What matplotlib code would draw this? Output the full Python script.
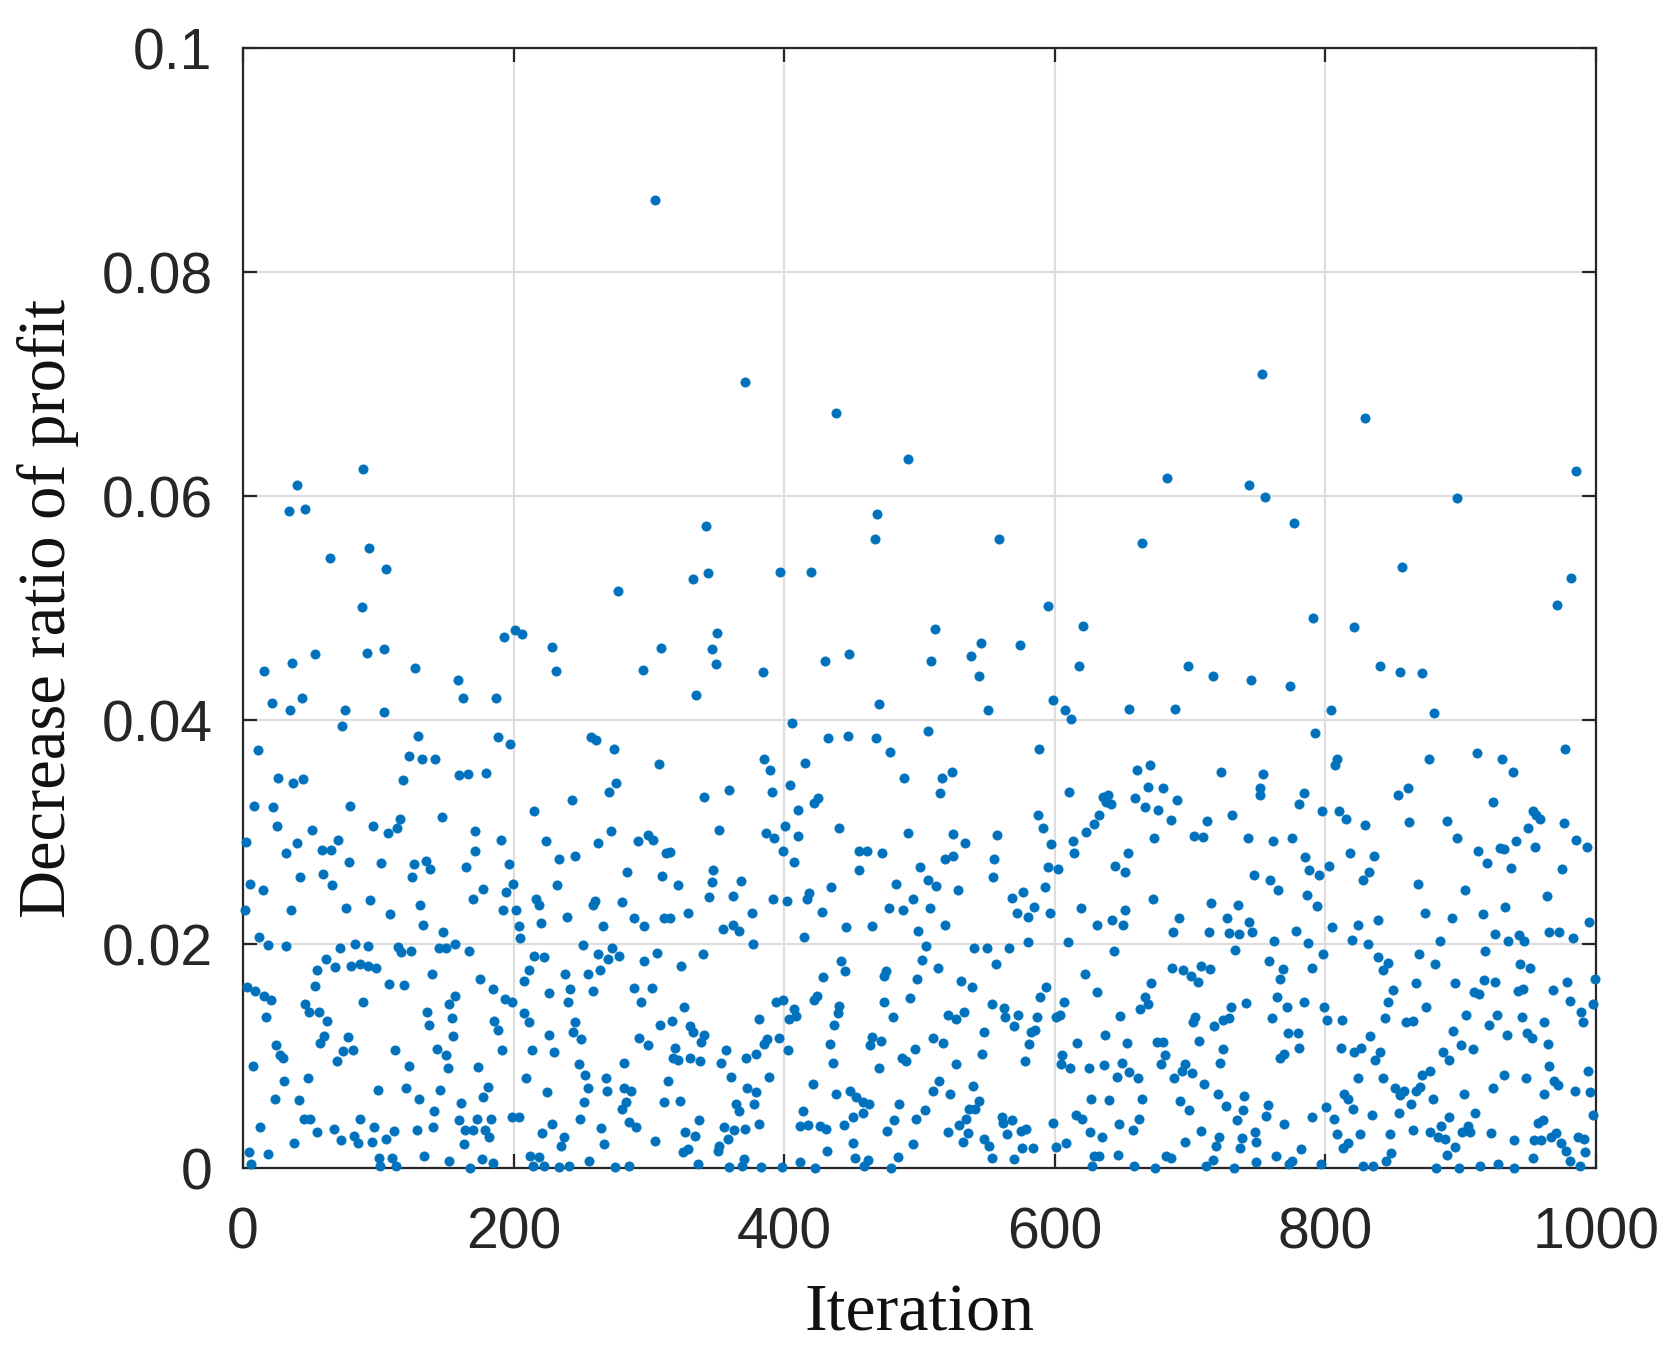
import numpy as np
import matplotlib
matplotlib.use("Agg")
import matplotlib.pyplot as plt

# ---------------- data (iteration, decrease ratio) ----------------
# sparse upper points (ratio as fraction)
iter_up_left = [304.5, 371, 438.6, 491.6, 89, 40, 33.8, 45.7, 64, 93.2,
                105.8, 87.8, 15.4, 36.3, 53, 91.3, 103.9, 127.3, 158.8, 162.4,
                187.1, 21.5, 34.7, 43.7, 75.6, 104.5, 192.6, 201, 206, 228.6,
                231.2, 277.5, 295.5, 309.3, 332.8, 342.1, 344, 350.2, 346.3, 349.8,
                334.7, 384.2, 397.1, 419.9, 430.5, 448.2, 468.8, 467.2, 470]
ratio_up_left = [0.0864, 0.0702, 0.0674, 0.0633, 0.0624, 0.0610, 0.0587, 0.0588, 0.0545, 0.0554,
                 0.0535, 0.0501, 0.0444, 0.0451, 0.0459, 0.0460, 0.0463, 0.0446, 0.0436, 0.0420,
                 0.0420, 0.0415, 0.0409, 0.0420, 0.0409, 0.0407, 0.0474, 0.0480, 0.0477, 0.0465,
                 0.0444, 0.0515, 0.0445, 0.0464, 0.0526, 0.0573, 0.0531, 0.0478, 0.0463, 0.0450,
                 0.0422, 0.0443, 0.0532, 0.0532, 0.0453, 0.0459, 0.0584, 0.0562, 0.0414]

iter_up_right = [753.2, 829.5, 683.1, 743.2, 755.2, 897.4, 985.4, 776.6, 559.1, 664.6,
                 856.5, 981.5, 971.4, 594.8, 790.9, 621.1, 511.7, 821.4, 545.8, 574,
                 537.7, 508.4, 543.8, 618.2, 698.4, 717.2, 744.8, 773.7, 840.3, 855.5,
                 871.1, 550.3, 599, 607.8, 611.7, 655.2, 689, 804.2, 879.9]
ratio_up_right = [0.0709, 0.0670, 0.0616, 0.0610, 0.0599, 0.0598, 0.0622, 0.0576, 0.0562, 0.0558,
                  0.0537, 0.0527, 0.0503, 0.0502, 0.0491, 0.0484, 0.0481, 0.0483, 0.0469, 0.0467,
                  0.0457, 0.0453, 0.0439, 0.0448, 0.0448, 0.0439, 0.0436, 0.0430, 0.0448, 0.0443,
                  0.0442, 0.0409, 0.0418, 0.0409, 0.0401, 0.0410, 0.0410, 0.0409, 0.0406]

# dense lower band, ratio given in per-mille (x 0.001)
it1 = [73.1, 10.8, 26.1, 37.2, 44.6, 118, 8.3, 22.4, 79, 24.8,
       51, 96, 116.2, 113.5, 107.4, 2.2, 39.9, 31.7, 58.3, 65.2,
       70.4, 78.5, 101.9, 42.1, 58.8, 65.7, 5.1, 15, 94.1, 1.5,
       35.2, 76.1, 108.8, 12, 18.7, 31.5, 71.6, 83, 92.3, 114.8,
       116.7, 61.3, 54.4, 68, 79.8, 86.4, 92.1, 98.3, 53, 2.7,
       9.1, 15.7, 20.7, 108.1, 118.7, 88.9, 46, 49, 55.9, 62,
       17, 60.1, 57.1, 77.3, 24.4, 27.6, 29.8, 73.6, 81, 69.2,
       112.3, 7.1, 30.5, 48.2, 99.5, 120.4, 23.6, 41.1, 12.8, 45.3,
       49.5, 54.7, 67, 72.4, 86.4, 82.2, 84.7, 97, 95.3, 105.6,
       111.3, 37.9, 4.2, 18.7, 5.9, 100.2, 101.5, 109.8, 113]
pm1 = [39.5, 37.3, 34.8, 34.4, 34.7, 34.6, 32.3, 32.2, 32.35, 30.5,
       30.2, 30.5, 31.2, 30.4, 29.9, 29.1, 29.05, 28.1, 28.4, 28.4,
       29.25, 27.3, 27.2, 26.0, 26.25, 25.3, 25.4, 24.8, 23.9, 23.0,
       23.0, 23.2, 22.7, 20.6, 19.9, 19.8, 19.6, 20.0, 19.8, 19.7,
       19.3, 18.7, 17.7, 17.95, 18.0, 18.2, 18.0, 17.9, 16.25, 16.2,
       15.8, 15.4, 15.0, 16.4, 16.3, 14.8, 14.6, 13.9, 13.9, 13.1,
       13.45, 11.75, 11.2, 11.7, 11.0, 10.1, 9.8, 10.45, 10.5, 9.55,
       10.5, 9.1, 7.8, 8.0, 7.0, 7.1, 6.2, 6.1, 3.7, 4.35,
       4.35, 3.2, 3.5, 2.5, 4.35, 2.9, 2.2, 3.7, 2.3, 2.6,
       3.3, 2.2, 1.4, 1.25, 0.4, 0.9, 0.2, 0.9, 0.2]

it2 = [129.1, 123, 132.1, 142.2, 188.2, 197.3, 159.4, 166.1, 179.6, 243.2,
       214.8, 147.1, 171.7, 190.7, 224, 171.2, 233.8, 245.4, 126.7, 135.3,
       138.2, 124.9, 164.8, 196.4, 232.1, 177.1, 169.8, 194.4, 199.8, 216.6,
       218.5, 130.8, 192.4, 201.8, 239.2, 220.3, 204.2, 133.3, 148.1, 205,
       124.2, 145.1, 150.1, 156.7, 167.3, 215.3, 222.2, 211.6, 207.9, 139.7,
       175.4, 185, 193.9, 198.8, 156.7, 152, 238, 241.9, 226.4, 240,
       135.8, 137.2, 154.5, 207.4, 211.1, 185.8, 188.2, 245.4, 243.7, 155,
       226.4, 143.4, 150.1, 151.3, 191.2, 213.6, 230.1, 122.5, 174, 209.2,
       224.7, 145.9, 129.9, 180.8, 177.6, 161.1, 141.4, 159.9, 173, 183.3,
       198.8, 203.8, 164.3, 169.8, 178.9, 182.1, 140.2, 128.4, 163.1, 134,
       152.5, 168, 176.7, 184.5, 228.4, 221, 237.5, 235, 212.1, 219,
       214.1, 222.7, 233.3, 241.2]
pm2 = [38.6, 36.8, 36.5, 36.5, 38.5, 37.9, 35.1, 35.2, 35.3, 32.9,
       31.9, 31.3, 30.1, 29.3, 29.2, 28.3, 27.6, 27.9, 27.1, 27.4,
       26.7, 26.0, 26.9, 27.1, 25.3, 24.9, 24.0, 24.6, 25.4, 24.0,
       23.45, 23.5, 23.0, 23.0, 22.4, 21.9, 21.6, 21.7, 21.1, 20.5,
       19.4, 19.6, 19.6, 20.0, 19.4, 18.9, 18.8, 17.65, 16.7, 17.3,
       16.9, 15.95, 15.1, 14.8, 15.4, 14.6, 17.3, 16.0, 15.6, 14.8,
       13.9, 12.8, 13.4, 13.8, 13.0, 13.1, 12.35, 13.0, 12.1, 11.8,
       11.85, 10.6, 10.1, 8.9, 10.5, 10.5, 10.4, 9.1, 9.0, 8.0,
       6.8, 7.0, 6.2, 7.2, 6.3, 5.8, 5.1, 4.25, 4.4, 4.4,
       4.55, 4.55, 3.4, 3.4, 3.4, 2.8, 3.7, 3.4, 2.1, 1.1,
       0.6, 0.0, 0.8, 0.45, 3.9, 3.1, 2.8, 2.0, 1.1, 1.0,
       0.2, 0.2, 0.1, 0.2]

it3 = [257.2, 260.9, 273.9, 307.2, 275.7, 270.7, 340.4, 359.4, 351.5, 272,
       262.6, 292.2, 299.5, 303.2, 312.6, 315.8, 283.5, 309.6, 321.7, 347.1,
       346.6, 344.6, 362.4, 368, 258.4, 260.4, 279.8, 289.2, 296.6, 310.9,
       315.8, 328.6, 266.3, 354.5, 361.9, 366.8, 251, 262.1, 272.7, 278.1,
       270, 306, 296.6, 339.7, 323.7, 255.2, 263.8, 258.9, 289.2, 302.3,
       294.1, 325.7, 308.2, 317, 330.6, 332.3, 249.8, 292.4, 299.1, 319.5,
       317.5, 321.2, 330.6, 337.7, 340.4, 338.5, 357, 353.2, 371.7, 248.6,
       281.8, 253, 268.3, 254.7, 268.8, 281.3, 286.7, 313.8, 360.6, 372.2,
       252.3, 283, 279.8, 311.4, 322.9, 364.3, 366.3, 249.1, 285, 290.4,
       264.6, 267, 304.7, 326.6, 334, 337.2, 325.4, 328.6, 355.7, 358.2,
       352, 350.8, 363.1, 371.2, 256, 275.2, 285, 336.5, 358.9, 368.5,
       370.5]
pm3 = [38.5, 38.2, 37.4, 36.1, 34.4, 33.6, 33.1, 33.75, 30.2, 30.1,
       29.0, 29.2, 29.7, 29.3, 28.1, 28.2, 26.4, 26.1, 25.3, 26.6,
       25.5, 24.2, 24.3, 25.6, 23.45, 23.8, 23.75, 22.3, 21.6, 22.35,
       22.35, 22.8, 21.6, 21.3, 21.7, 21.2, 19.9, 19.1, 19.6, 18.9,
       18.7, 19.2, 18.5, 19.1, 18.0, 17.35, 17.65, 15.8, 16.1, 16.1,
       14.8, 14.4, 12.8, 13.1, 12.7, 12.1, 11.5, 11.6, 10.95, 10.7,
       9.8, 9.6, 9.85, 9.55, 11.85, 11.25, 10.5, 9.4, 9.8, 9.3,
       9.4, 8.3, 8.0, 7.1, 6.85, 7.1, 6.9, 7.8, 8.1, 7.1,
       5.9, 5.9, 5.3, 5.9, 5.95, 5.7, 5.1, 4.4, 4.1, 3.7,
       3.6, 2.1, 2.4, 3.2, 2.9, 4.25, 1.4, 1.7, 3.7, 2.6,
       2.0, 1.5, 3.4, 3.45, 0.6, 0.1, 0.2, 0.4, 0.1, 0.2,
       0.8]

it4 = [405.8, 432.6, 446.9, 467.9, 478.5, 385.3, 389.5, 415.4, 488.8, 404.6,
       391, 421.8, 424.8, 410, 400.9, 440.8, 386.6, 392.7, 410.5, 491.8,
       398.9, 407.5, 455.5, 461, 472.3, 455, 482.6, 434.6, 418.6, 416.6,
       391.5, 401.9, 376, 428, 477.7, 487.6, 495.4, 445.7, 464.7, 498.6,
       414.9, 376.7, 442, 445, 429, 475.3, 474, 498.2, 424.3, 422.3,
       394, 398.9, 407.5, 403.3, 408.7, 440.8, 439.5, 436.6, 381.7, 473.5,
       480.2, 493, 385.3, 387.1, 396, 402.6, 379.2, 434.1, 435.8, 464.9,
       463.7, 471.6, 496.9, 487, 490, 470.3, 389, 379.2, 378, 421.6,
       438.3, 448.9, 453.1, 458, 463, 458, 451.1, 485.1, 413.7, 412,
       417.4, 426.5, 430.9, 444, 381.7, 481.4, 476, 497.4, 495, 450.6,
       431.7, 452.6, 461.7, 458.7, 483.9, 478.9, 411.7, 423, 398.4, 382.9]
pm4 = [39.7, 38.4, 38.6, 38.4, 37.1, 36.5, 35.5, 36.2, 34.85, 34.2,
       33.6, 32.6, 33.0, 32.0, 30.5, 30.4, 29.9, 29.5, 29.6, 29.9,
       28.3, 27.3, 28.3, 28.3, 28.1, 26.6, 25.4, 25.1, 24.55, 24.0,
       24.0, 23.8, 22.8, 22.85, 23.2, 23.0, 24.05, 21.5, 21.6, 21.2,
       20.6, 20.0, 18.5, 17.6, 17.05, 17.6, 17.1, 16.9, 15.4, 15.0,
       14.8, 15.0, 14.2, 13.3, 13.6, 14.5, 13.8, 12.8, 13.3, 14.8,
       13.5, 15.2, 11.1, 11.55, 11.6, 10.5, 10.15, 11.1, 9.4, 11.7,
       11.0, 11.3, 10.6, 9.8, 9.55, 8.9, 8.1, 6.8, 5.7, 7.5,
       6.6, 6.9, 6.3, 5.9, 5.75, 4.9, 4.55, 5.7, 5.05, 3.75,
       3.8, 3.75, 3.5, 3.8, 3.9, 4.3, 3.3, 4.4, 2.1, 2.2,
       1.5, 0.9, 0.7, 0.15, 1.0, 0, 0.5, 0, 0.1, 0.1]

it5 = [506.5, 588.5, 516.4, 523.8, 515.4, 610.2, 587.3, 591, 557.3, 525,
       533.6, 597.2, 613.7, 614.4, 623, 519.1, 524.5, 555.3, 554.5, 500.6,
       594.7, 602.6, 506, 512.2, 528.7, 592.7, 568.3, 576.2, 508, 571.8,
       580.4, 584.3, 596.7, 619.3, 519.1, 504.8, 540.5, 549.6, 565.9, 579.9,
       610, 501.8, 513.4, 556.5, 530.7, 538.5, 622.3, 593.5, 589.3, 606.5,
       553.6, 562.7, 563.4, 572.5, 569.6, 520.8, 527, 533.1, 586.8, 600.9,
       603.8, 547.9, 582.4, 585.3, 581.1, 510.2, 517.6, 616.4, 546.2, 527,
       578, 605, 604.5, 611.2, 514.1, 510.2, 522.8, 539.8, 543.7, 536.8,
       541.2, 504.3, 534.3, 529.4, 536.1, 521.3, 531.9, 560.7, 562, 568.3,
       564.6, 547.9, 551.6, 553.6, 570.1, 575, 578.7, 575.7, 583.6, 598.4,
       600.9, 608.2, 615.6, 619.8]
pm5 = [39.0, 37.4, 34.8, 35.4, 33.5, 33.6, 31.5, 30.4, 29.7, 29.85,
       29.0, 28.9, 29.2, 28.1, 30.0, 27.6, 27.9, 27.6, 26.0, 26.9,
       26.9, 26.7, 25.7, 25.2, 24.85, 25.1, 24.1, 24.6, 23.2, 22.8,
       22.4, 23.3, 22.8, 23.2, 21.7, 19.8, 19.6, 19.6, 19.6, 20.2,
       20.2, 18.6, 17.85, 18.2, 16.7, 16.2, 17.35, 16.2, 15.3, 14.8,
       14.6, 14.3, 13.5, 13.7, 12.7, 13.7, 13.3, 13.9, 13.5, 13.5,
       13.7, 12.1, 12.1, 12.35, 11.1, 11.6, 11.2, 11.2, 10.2, 9.25,
       9.55, 10.1, 9.3, 8.95, 7.8, 6.9, 6.6, 7.3, 6.0, 5.3,
       5.3, 5.2, 4.4, 3.8, 3.15, 3.2, 2.3, 4.55, 4.05, 4.25,
       3.0, 2.6, 2.0, 0.9, 0.8, 3.3, 3.5, 1.8, 1.8, 4.0,
       1.9, 2.2, 4.7, 4.35]

it6 = [660.8, 670.6, 722.9, 635.4, 639.1, 637.9, 641.6, 659.6, 669.2, 680.2,
       690.1, 666.9, 676.1, 685.9, 731, 712.3, 633, 629.3, 673.1, 702.7,
       709.8, 742.6, 654.4, 644.5, 651.9, 747.5, 672.4, 715.5, 735.2, 652.2,
       631.2, 642.3, 650.2, 691.6, 687.6, 713.7, 727.3, 729, 736.4, 743.8,
       745.8, 643.5, 733.2, 686.6, 695, 700.7, 705.6, 708.1, 714.7, 671.1,
       631, 666.9, 668.7, 663.3, 741.3, 730.2, 648.2, 703.9, 702.4, 717.9,
       724.6, 729, 637.4, 653.4, 675.6, 680.2, 706.4, 724.1, 681.5, 678.5,
       696.5, 694, 688.4, 701.4, 722.4, 710.5, 625.1, 636.6, 649.5, 655.1,
       661.3, 645.8, 626.8, 640.3, 664.5, 692.8, 699, 720.4, 726.5, 740.1,
       738.9, 734.7, 662, 657.6, 647.7, 626.1, 634.9, 708.1, 696.5, 721.1,
       719.2, 738.4, 736.9, 748.2, 748.7, 629.3, 633, 646.5, 627.5, 658.8,
       674.3, 682.2, 685.9, 711.8, 716.7, 732.2, 748.7]
pm6 = [35.5, 36.0, 35.4, 33.1, 33.3, 32.7, 32.5, 33.0, 34.0, 33.95,
       32.9, 32.2, 32.0, 31.1, 31.5, 31.0, 31.5, 30.7, 29.5, 29.6,
       29.55, 29.5, 28.15, 27.0, 26.4, 26.2, 24.0, 23.7, 23.5, 23.0,
       21.7, 22.1, 21.7, 22.3, 21.1, 21.1, 22.3, 21.0, 20.9, 22.0,
       21.1, 19.4, 19.5, 17.9, 17.7, 17.1, 16.6, 18.0, 17.8, 16.5,
       15.7, 15.3, 14.6, 14.2, 14.7, 14.4, 13.6, 13.5, 13.0, 12.7,
       13.2, 13.4, 11.9, 11.2, 11.25, 11.25, 11.3, 10.65, 10.1, 9.3,
       9.3, 8.7, 8.0, 8.5, 9.4, 7.5, 8.9, 9.2, 9.4, 8.6,
       8.0, 8.1, 6.2, 6.1, 6.2, 6.0, 5.2, 6.6, 5.5, 6.4,
       5.2, 4.3, 4.4, 3.4, 3.9, 3.2, 2.8, 3.3, 2.3, 2.8,
       2.0, 2.7, 1.8, 3.2, 2.3, 1.1, 1.1, 1.2, 0.2, 0.2,
       0, 1.1, 0.9, 0.2, 0.7, 0, 0.5]

it7 = [792.3, 808.6, 807.1, 754.1, 751.7, 751.7, 784.4, 780.7, 797.2, 810.3,
       815.2, 829.2, 853.4, 861.3, 862, 761, 775.3, 785.2, 787.6, 795,
       802.4, 818.2, 835.6, 832.4, 828, 759.3, 765.2, 786.1, 793.8, 868.2,
       873.8, 778.3, 804.9, 824.3, 839.1, 762.2, 787.4, 819.4, 831.2, 798.5,
       790.1, 758.1, 768.4, 766.7, 838.6, 846, 842.3, 868.9, 866.9, 850.2,
       846.5, 874.3, 764.2, 771.4, 783.9, 799.2, 760.3, 801.2, 812.2, 844.3,
       859.5, 864.5, 772.1, 779.5, 780.2, 769.6, 766.7, 811.5, 821.4, 826.3,
       833.2, 840.3, 836.6, 823.8, 842.8, 871.1, 851.7, 855.1, 858.3, 866.9,
       869.9, 863.2, 854.1, 814, 816.4, 820.1, 800.4, 806.6, 834.2, 757.3,
       756.1, 769.1, 789.8, 808.6, 816.9, 812.7, 825.5, 848, 865, 848.5,
       844.8, 782, 763.5, 775.3, 773.3, 796.7, 827.5, 834.9]
pm7 = [38.8, 36.5, 36.0, 35.15, 33.9, 33.3, 33.5, 32.5, 31.9, 31.9,
       31.2, 30.65, 33.3, 33.95, 30.9, 29.2, 29.5, 27.8, 26.6, 26.2,
       27.0, 28.1, 27.9, 26.4, 25.7, 25.7, 24.85, 24.35, 23.4, 25.4,
       22.8, 21.2, 21.5, 21.7, 22.1, 20.3, 20.1, 20.4, 20.0, 19.1,
       17.9, 18.5, 17.8, 16.9, 18.8, 18.3, 17.65, 19.1, 16.5, 15.9,
       14.8, 14.4, 15.3, 14.4, 14.8, 14.4, 13.4, 13.2, 13.2, 13.4,
       13.0, 13.1, 12.05, 12.05, 10.75, 10.2, 9.8, 10.7, 10.4, 10.75,
       11.8, 10.4, 9.6, 8.0, 8.0, 8.3, 7.1, 6.5, 6.9, 6.9,
       7.2, 5.7, 4.9, 6.6, 6.2, 5.3, 5.45, 4.4, 4.7, 5.65,
       4.6, 3.9, 4.55, 3.0, 2.2, 1.8, 3.0, 3.0, 3.4, 1.3,
       0.6, 1.7, 1.1, 0.6, 0.4, 0.4, 0.15, 0.2]

it8 = [876.9, 912.1, 930.3, 938.4, 977.1, 923.7, 889.9, 897.3, 953.2, 955.7,
       958.6, 950, 976.1, 912.6, 919.5, 929.1, 932.3, 940.9, 937.2, 955,
       974.9, 985.2, 993.4, 903.2, 893.4, 916.3, 933, 963.6, 995.1, 885,
       925.4, 934.7, 943.4, 947.1, 965.5, 972.9, 982.8, 918.2, 881.1, 944.1,
       951.5, 895.8, 909.6, 913.8, 917, 925.6, 942.1, 946.3, 968, 978.3,
       980.8, 999.5, 997.6, 904, 926.9, 921.2, 945.1, 934, 948.8, 952.7,
       961.8, 964.3, 988.9, 990.2, 894.1, 900.3, 908.9, 886.7, 891.6, 877.4,
       965.5, 969.2, 971.7, 993.9, 931.8, 948.3, 923.7, 902.2, 879.3, 961.3,
       984.5, 995.6, 910.6, 997.6, 891.6, 885.5, 877.4, 883, 888.7, 896.1,
       889.7, 901, 905.7, 907.2, 922.4, 939.7, 956.9, 960.6, 954.4, 959.4,
       966.8, 970.5, 974.2, 977.9, 980.8, 986.5, 991.4, 992.1, 988.2, 881.8,
       899, 914.5, 927.8, 939.2, 953.7]
pm8 = [36.5, 37.05, 36.5, 35.4, 37.4, 32.7, 31.0, 29.5, 31.9, 31.5,
       31.2, 30.4, 30.8, 28.3, 27.2, 28.6, 28.5, 29.2, 26.8, 28.7,
       26.7, 29.3, 28.7, 24.8, 22.3, 22.7, 23.3, 24.3, 22.0, 20.3,
       20.9, 20.3, 20.8, 20.3, 21.1, 21.1, 20.5, 19.4, 18.2, 18.2,
       17.9, 16.5, 15.7, 15.5, 16.8, 16.6, 15.8, 16.0, 15.9, 16.6,
       14.9, 16.9, 14.6, 13.7, 13.7, 12.8, 13.5, 11.9, 12.05, 11.6,
       13.0, 11.1, 13.9, 13.0, 12.2, 10.95, 10.6, 10.4, 9.6, 8.7,
       9.1, 7.8, 7.4, 8.7, 8.3, 8.0, 7.1, 6.6, 6.2, 6.6,
       6.9, 6.8, 4.9, 4.7, 4.55, 3.75, 3.2, 2.8, 2.6, 1.9,
       1.2, 3.2, 3.75, 3.2, 3.15, 2.5, 4.05, 4.3, 2.5, 2.5,
       2.8, 3.1, 2.2, 1.5, 0.6, 2.8, 2.6, 1.4, 0.2, 0,
       0, 0.15, 0.4, 0, 0.9]

x_ticks = [0, 200, 400, 600, 800, 1000]
y_ticks = [0, 0.02, 0.04, 0.06, 0.08, 0.1]
y_tick_labels = ["0", "0.02", "0.04", "0.06", "0.08", "0.1"]
x_label = "Iteration"
y_label = "Decrease ratio of profit"

# ---------------- assemble ----------------
lower_x = [it1, it2, it3, it4, it5, it6, it7, it8]
lower_pm = [pm1, pm2, pm3, pm4, pm5, pm6, pm7, pm8]
xs = [np.asarray(iter_up_left, float), np.asarray(iter_up_right, float)]
ys = [np.asarray(ratio_up_left, float), np.asarray(ratio_up_right, float)]
for a, b in zip(lower_x, lower_pm):
    a = np.asarray(a, float)
    b = np.asarray(b, float) / 1000.0
    assert a.shape == b.shape, (a.shape, b.shape)
    xs.append(a)
    ys.append(b)
x_all = np.concatenate(xs)
y_all = np.concatenate(ys)

# ---------------- figure ----------------
W, H = 1677, 1359
fig = plt.figure(figsize=(W / 100, H / 100), dpi=100)
ax = fig.add_axes([243 / W, 1 - 1168 / H, (1596 - 243) / W, (1168 - 48) / H])

color = "#0072BD"
ax.plot(x_all, y_all, linestyle="none", marker="o", markersize=6.6,
        markerfacecolor=color, markeredgecolor=color, markeredgewidth=0.6,
        clip_on=False, zorder=3)

ax.set_xlim(0, 1000)
ax.set_ylim(0, 0.1)
ax.set_xticks(x_ticks)
ax.set_yticks(y_ticks)
ax.set_yticklabels(y_tick_labels)

ax.grid(True, color="#dedede", linewidth=1.6, zorder=0)
ax.set_axisbelow(True)

for sp in ax.spines.values():
    sp.set_color("#262626")
    sp.set_linewidth(1.6)

tick_font = ["Liberation Sans", "DejaVu Sans"]
ax.tick_params(axis="both", which="both", direction="in", length=10, width=1.6,
               color="#262626", top=True, right=True, labelsize=41,
               labelcolor="#262626")
ax.tick_params(axis="y", pad=22)
ax.tick_params(axis="x", pad=28)
for lab in ax.get_xticklabels() + ax.get_yticklabels():
    lab.set_family(tick_font)

label_font = ["Liberation Serif", "DejaVu Serif"]
ax.set_xlabel(x_label, fontsize=49, family=label_font, color="#111111", labelpad=16)
ax.set_ylabel(y_label, fontsize=48, family=label_font, color="#111111", labelpad=16)

fig.savefig("out.png", dpi=100, facecolor="white")
